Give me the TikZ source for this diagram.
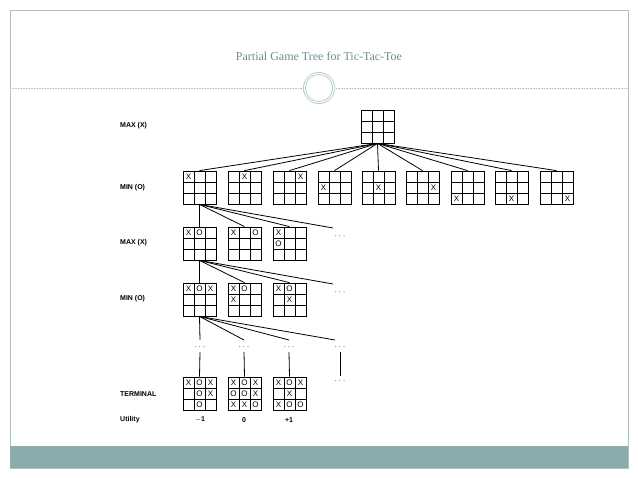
\documentclass[tikz,border=0pt]{standalone}
\usepackage{fontspec}
\setmainfont{Liberation Serif}
\setsansfont{Liberation Sans}
\begin{document}
\begin{tikzpicture}[x=1pt,y=-1pt,
  board/.style={draw,minimum size=33pt,inner sep=0pt,line width=0.8pt},
  mk/.style={font=\sffamily\fontsize{8}{8}\selectfont,inner sep=0pt},
  lvl/.style={font=\sffamily\bfseries\fontsize{7}{8}\selectfont,anchor=west,inner sep=0pt},
  edge/.style={line width=0.8pt},
  dots/.style={font=\fontsize{9}{9}\selectfont,inner sep=0pt}]
\definecolor{frame}{RGB}{170,195,198}
\definecolor{band}{RGB}{138,172,172}
\definecolor{titlec}{RGB}{110,140,145}
\newcommand\tttb[4]{%
  \node[board] (#1) at (#2+16.5,#3+16.5) {};
  \draw[line width=0.6pt] (#2+11,#3) -- (#2+11,#3+33) (#2+22,#3) -- (#2+22,#3+33)
     (#2,#3+11) -- (#2+33,#3+11) (#2,#3+22) -- (#2+33,#3+22);
  \foreach \c/\r/\m in {#4} {\node[mk] at (#2+11*\c+5.5,#3+11*\r+5.7) {\m};}}
\useasboundingbox (0,0) rectangle (638,478);
\fill[white] (0,0) rectangle (638,478);
\draw[frame,line width=0.6pt] (10,10) rectangle (628,468);
\fill[band] (10,446) rectangle (628,468);
\draw[frame,densely dotted,line width=0.6pt] (10,88) -- (302,88) (336,88) -- (628,88);
\node[circle,draw=frame,double=white,double distance=1.2pt,line width=0.8pt,minimum size=29pt,inner sep=0pt] (ring) at (319,88) {};
\node[titlec,font=\fontsize{12}{14}\selectfont] (title) at (319,56) {Partial Game Tree for Tic-Tac-Toe};
% level labels
\node[lvl] (l1) at (120,126) {MAX (X)};
\node[lvl] (l2) at (120,188) {MIN (O)};
\node[lvl] (l3) at (120,243) {MAX (X)};
\node[lvl] (l4) at (120,299) {MIN (O)};
\node[lvl] (l5) at (120,394) {TERMINAL};
\node[lvl] (l6) at (120,420) {Utility};
% root
\tttb{root}{361}{110}{}
% MIN level
\tttb{m1}{183}{171}{0/0/X}
\tttb{m2}{228}{171}{1/0/X}
\tttb{m3}{273}{171}{2/0/X}
\tttb{m4}{318}{171}{0/1/X}
\tttb{m5}{362}{171}{1/1/X}
\tttb{m6}{406}{171}{2/1/X}
\tttb{m7}{451}{171}{0/2/X}
\tttb{m8}{495}{171}{1/2/X}
\tttb{m9}{540}{171}{2/2/X}
\foreach \i in {1,...,9} {\draw[edge] (root.south) -- (m\i.north);}
% MAX level
\tttb{a1}{183}{227}{0/0/X,1/0/O}
\tttb{a2}{228}{227}{0/0/X,2/0/O}
\tttb{a3}{273}{227}{0/0/X,0/1/O}
\node[dots] (ad) at (340,236) {$\cdots$};
\coordinate (ae) at (333,228);
\foreach \i in {a1,a2,a3} {\draw[edge] (m1.south) -- (\i.north);}
\draw[edge] (m1.south) -- (ae);
% MIN level 2
\tttb{b1}{183}{283}{0/0/X,1/0/O,2/0/X}
\tttb{b2}{228}{283}{0/0/X,1/0/O,0/1/X}
\tttb{b3}{273}{283}{0/0/X,1/0/O,1/1/X}
\node[dots] (bd) at (340,292) {$\cdots$};
\coordinate (be) at (333,284);
\foreach \i in {b1,b2,b3} {\draw[edge] (a1.south) -- (\i.north);}
\draw[edge] (a1.south) -- (be);
% dots row
\node[dots] (d1) at (200,347) {$\cdots$};
\node[dots] (d2) at (244,347) {$\cdots$};
\node[dots] (d3) at (289,347) {$\cdots$};
\node[dots] (d4) at (340,347) {$\cdots$};
\coordinate (e1) at (200,340);
\coordinate (e2) at (244,340);
\coordinate (e3) at (289,340);
\coordinate (e4) at (335,340);
\foreach \i in {1,...,4} {\draw[edge] (b1.south) -- (e\i);}
% terminal
\tttb{t1}{183}{377}{0/0/X,1/0/O,2/0/X,1/1/O,2/1/X,1/2/O}
\tttb{t2}{228}{377}{0/0/X,1/0/O,2/0/X,0/1/O,1/1/O,2/1/X,0/2/X,1/2/X,2/2/O}
\tttb{t3}{273}{377}{0/0/X,1/0/O,2/0/X,1/1/X,0/2/X,1/2/O,2/2/O}
\node[dots] (d5) at (340,381) {$\cdots$};
\draw[edge] (d1.south) ++(0,3) -- (t1.north);
\draw[edge] (d2.south) ++(0,3) -- (t2.north);
\draw[edge] (d3.south) ++(0,3) -- (t3.north);
\draw[edge] ([yshift=-3pt]d4.south) -- ([yshift=3pt]d5.north);
% utilities
\node[lvl,anchor=center] (u1) at (200,420) {$-$1};
\node[lvl,anchor=center] (u2) at (244,420) {0};
\node[lvl,anchor=center] (u3) at (289,420) {+1};
\end{tikzpicture}
\end{document}
